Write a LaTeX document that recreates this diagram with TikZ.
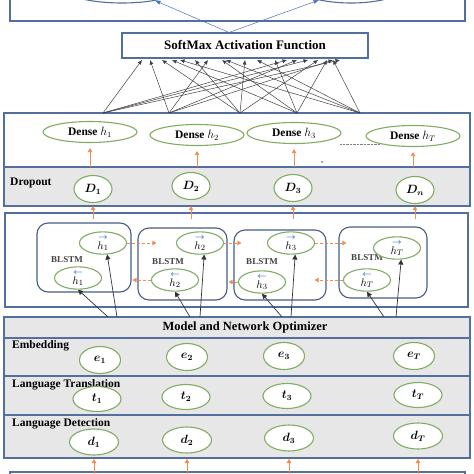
\documentclass[tikz,border=0pt]{standalone}
\usepackage{amsmath,amssymb,amsbsy}
\usepackage{fontspec}
\setmainfont{Liberation Serif}
\usepackage{xcolor}
\usetikzlibrary{shapes,arrows.meta,calc}

\definecolor{frameblue}{RGB}{84,110,158}
\definecolor{ringgreen}{RGB}{130,172,98}
\definecolor{bandgray}{RGB}{231,231,231}
\definecolor{arrorange}{RGB}{240,140,80}
\definecolor{arrblue}{RGB}{68,114,196}

\begin{document}
\begin{tikzpicture}[x=1pt,y=-1pt,
  frame/.style={draw=frameblue,line width=1.1pt},
  band/.style={frame,fill=bandgray},
  ring/.style={draw=ringgreen,line width=1.1pt,ellipse,fill=white,inner sep=0pt},
  dense/.style={ring,minimum width=94pt,minimum height=21pt,font=\fontsize{11.5}{13}\selectfont\bfseries},
  small/.style={ring,minimum width=44pt,minimum height=25pt,font=\fontsize{12}{14}\selectfont},
  hcell/.style={ring,minimum width=47pt,minimum height=20pt,font=\fontsize{11}{13}\selectfont},
  cell/.style={draw=frameblue!85!black,line width=1.1pt,rounded corners=11pt},
  lbl/.style={font=\fontsize{11.5}{13}\selectfont\bfseries,anchor=west,inner sep=0pt},
  upor/.style={draw=arrorange,line width=0.8pt,-{Triangle[length=4pt,width=4.5pt]}},
  dashor/.style={upor,densely dashed},
  mesh/.style={draw=black!75,line width=0.5pt,-{Latex[length=4.5pt,width=4pt]}},
  blk/.style={draw=black!80,line width=0.7pt,-{Triangle[length=5pt,width=5pt]}}]
\useasboundingbox (0,0) rectangle (474,474);

% output part, cut at the top
\draw[frame] (10,-20) -- (10,21) -- (465,21) -- (465,-20);
\node[draw=frameblue,line width=1.1pt,ellipse,minimum width=132pt,minimum height=40pt] (outL) at (122,-17) {};
\node[draw=frameblue,line width=1.1pt,ellipse,minimum width=118pt,minimum height=40pt] (outR) at (351,-17) {};
\node[frame,fill=white,minimum width=246pt,minimum height=25pt,font=\fontsize{13}{15}\selectfont\bfseries] (soft) at (245,45.5) {SoftMax Activation Function};
\draw[arrblue,line width=0.5pt,-{Triangle[length=5pt,width=4pt]}] ([xshift=-16pt]soft.north) -- (outL.-28);
\draw[arrblue,line width=0.5pt,-{Triangle[length=5pt,width=4pt]}] ([xshift=-16pt]soft.north) -- (outR.-152);

% dense + dropout
\draw[band] (4,167) rectangle (470,206);
\draw[frame] (4,113) rectangle (470,206);
\coordinate (dtop) at (0,167);
\coordinate (dbot) at (0,206);
\foreach \n/\x/\y/\s in {1/90/132/1,2/197/135/2,3/294/133/3,4/413/136/T}
  \node[dense] (dh\n) at (\x,\y) {Dense $h_{\s}$};
\draw[densely dotted,gray] (340,144) -- (380,144);
\fill[black!70] (322,162) circle (0.8);
\node[lbl] (lDrop) at (10,183) {Dropout};
\foreach \n/\x/\y/\s in {1/93/189/1,2/191/186/2,3/293/188/3,4/415/190/n}
  \node[small,minimum width=38pt,minimum height=27pt] (dd\n) at (\x,\y) {$\boldsymbol{D_{\s}}$};
\foreach \n in {1,...,4}{\draw[upor] (dh\n.south |- dtop) -- ([yshift=-5pt]dh\n.south);}

% mesh into softmax
\foreach \i/\x in {1/103,2/169,3/240,4/297,5/360}{\coordinate (m\i) at (\x,113);}
\foreach \i/\x in {1/142,2/150,3/162,4/172,5/180,6/195,7/208,8/222,9/226,10/245,11/257,12/275,13/287,14/297,15/308,16/318,17/327,18/333,19/340}{\coordinate (a\i) at (\x,60);}
\foreach \s/\t in {1/1,1/13,1/15,1/19,2/2,2/7,2/14,2/18,3/3,3/6,3/10,3/16,4/4,4/8,4/12,4/17,5/5,5/9,5/11,5/18}
  \draw[mesh] (m\s) -- (a\t);

% blstm
\draw[frame] (5,213) rectangle (468,307);
\coordinate (btop) at (0,219);
\foreach \n in {1,...,4}{\draw[upor] (dd\n.south |- btop) -- (dd\n.south |- dbot);}
\node[cell,minimum width=94pt,minimum height=69pt] (bx1) at (84,257.5) {};
\node[cell,minimum width=89pt,minimum height=72pt] (bx2) at (182.5,264) {};
\node[cell,minimum width=92pt,minimum height=70pt] (bx3) at (280,265) {};
\node[cell,minimum width=88pt,minimum height=71pt] (bx4) at (383,262.5) {};
\foreach \n/\x/\y in {1/67/260,2/168/262,3/262/262,4/367/258}
  \node[font=\fontsize{9}{11}\selectfont\bfseries,text=black!75] (bl\n) at (\x,\y) {BLSTM};
\foreach \n/\x/\y/\s in {1/103/243/1,2/200/243/2,3/291/243/3,4/397/248/T}
  \node[hcell] (f\n) at (\x,\y) {$\overset{\textcolor{arrblue}{\boldsymbol{\rightarrow}}}{h_{\s}}$};
\foreach \n/\x/\y/\s in {1/78/278/1,2/175/280/2,3/262/282/3,4/367/280/T}
  \node[hcell,minimum height=21pt] (b\n) at (\x,\y) {$\overset{\textcolor{arrblue}{\boldsymbol{\leftarrow}}}{h_{\s}}$};
\foreach \a/\b/\d in {1/2/19,2/3/8,3/4/8}
  \draw[dashor] (f\a.east) -- ([xshift=\d pt]f\a.east -| bx\b.west);
\foreach \a/\b/\d in {2/1/1,3/2/1,4/3/-12}
  \draw[dashor] (b\a.west) -- ([xshift=\d pt]b\a.west -| bx\b.east);

% lower bands
\node[band,minimum width=466pt,minimum height=21pt,inner sep=0pt,font=\fontsize{12.5}{14}\selectfont\bfseries] (opt) at (237,327.5) {\hspace{16pt}Model and Network Optimizer};
\foreach \n/\xa/\xb in {1/108/117,2/190/200,3/282/291,4/384/396}{
  \coordinate (oa\n) at (\xa,317);
  \coordinate (ob\n) at (\xb,317);
  \draw[blk] (oa\n) -- (b\n.south);
  \draw[blk] (ob\n) -- (f\n.-70);
}
\draw[band] (4,338) rectangle (470,376);
\draw[band] (4,376) rectangle (470,415);
\draw[band] (4,415) rectangle (470,458);
\node[lbl] (lEmb) at (12,346) {Embedding};
\node[lbl] (lTra) at (12,385) {Language Translation};
\node[lbl] (lDet) at (12,424) {Language Detection};
\foreach \n/\x/\y/\s in {1/100/360/1,2/187/357/2,3/284/356/3,4/414/356/T}
  \node[small,minimum width=41pt,minimum height=27pt] (e\n) at (\x,\y) {$\boldsymbol{e_{\s}}$};
\foreach \n/\x/\y/\s in {1/97/399/1,2/186/397/2,3/287/396/3,4/418/395/T}
  \node[small,minimum width=48pt,minimum height=25pt] (t\n) at (\x,\y) {$\boldsymbol{t_{\s}}$};
\foreach \n/\x/\y/\s in {1/94/442/1,2/187/440/2,3/289/438/3,4/418/436/T}
  \node[small,minimum width=49pt,minimum height=26pt] (d\n) at (\x,\y) {$\boldsymbol{d_{\s}}$};

% input part, cut at the bottom
\draw[frame] (10,490) -- (10,472) -- (465,472) -- (465,490);
\coordinate (inbot) at (0,490);
\coordinate (lbot) at (0,459);
\foreach \n in {1,...,4}{\draw[upor] (d\n.south |- inbot) -- (d\n.south |- lbot);}
\end{tikzpicture}
\end{document}
